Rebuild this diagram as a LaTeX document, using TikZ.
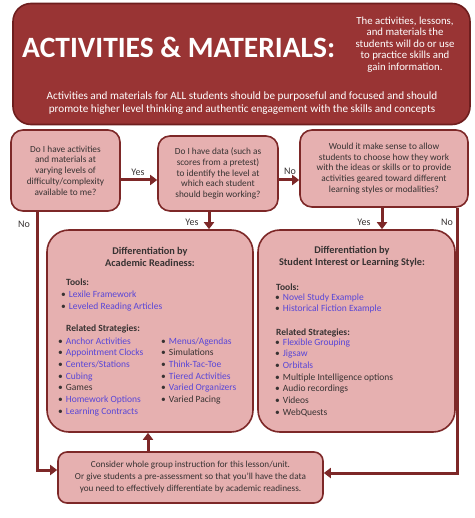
\documentclass[tikz,border=0pt]{standalone}
\usepackage{fontspec}
\setmainfont{Carlito}
\usetikzlibrary{arrows.meta}
\definecolor{hdr}{RGB}{153,52,52}
\definecolor{hdrline}{RGB}{110,30,30}
\definecolor{boxfill}{RGB}{230,176,176}
\definecolor{boxline}{RGB}{125,40,40}
\definecolor{txt}{RGB}{55,50,50}
\definecolor{link}{RGB}{88,70,215}
\newcommand{\bl}{\textbullet\hspace{3pt}}
\newcommand{\lk}[1]{\textcolor{link}{#1}}
\begin{document}
\begin{tikzpicture}[x=1pt,y=-1pt,
  box/.style={draw=boxline, line width=1.6pt, fill=boxfill, rounded corners=12pt, inner sep=0pt, text=txt, align=center},
  qtext/.style={font=\fontsize{9.3}{10.8}\selectfont},
  arr/.style={draw=boxline, line width=3pt, -{Triangle[length=7pt,width=10pt]}},
  lbl/.style={text=txt, font=\fontsize{10}{11}\selectfont, inner sep=0pt},
  list/.style={text=txt, font=\fontsize{9.5}{11.67}\selectfont, align=left, inner sep=0pt, anchor=north west},
  listhead/.style={text=txt, font=\fontsize{9.5}{11.67}\selectfont\bfseries, inner sep=0pt, anchor=north west},
  boxhead/.style={text=txt, font=\fontsize{10.3}{12}\selectfont\bfseries, align=center, inner sep=0pt}]
\useasboundingbox[fill=white] (0,0) rectangle (474,518);
% header
\node[box, fill=hdr, draw=hdrline, minimum width=457pt, minimum height=121pt, rounded corners=18pt] (head) at (241.5,64) {};
\node[font=\fontsize{29.5}{32}\selectfont\bfseries, text=white, anchor=west, inner sep=0pt] (title) at (22,47) {ACTIVITIES \& MATERIALS:};
\node[font=\fontsize{10.8}{11.5}\selectfont, text=white, align=center, inner sep=0pt] (desc) at (405,44.5) {The activities, lessons,\\and materials the\\students will do or use\\to practice skills and\\gain information.};
\node[font=\fontsize{11.2}{12.5}\selectfont, text=white, align=center, inner sep=0pt] (purpose) at (242,103) {Activities and materials for ALL students should be purposeful and focused and should\\promote higher level thinking and authentic engagement with the skills and concepts};
% questions
\node[box, qtext, minimum width=109pt, minimum height=81pt] (q1) at (65.5,170.5) {Do I have activities\\and materials at\\varying levels of\\difficulty/complexity\\available to me?};
\node[box, qtext, minimum width=120pt, minimum height=75pt] (q2) at (218,173.5) {Do I have data (such as\\scores from a pretest)\\to identify the level at\\which each student\\should begin working?};
\node[box, qtext, minimum width=168pt, minimum height=77pt] (q3) at (384,168.5) {Would it make sense to allow\\students to choose how they work\\with the ideas or skills or to provide\\activities geared toward different\\learning styles or modalities?};
% main boxes
\node[box, rounded corners=22pt, minimum width=206pt, minimum height=202pt] (ready) at (150,331) {};
\node[box, rounded corners=22pt, minimum width=197pt, minimum height=202pt] (interest) at (356.5,331) {};
\node[box, rounded corners=9pt, minimum width=265pt, minimum height=51pt, font=\fontsize{9.2}{12}\selectfont] (whole) at (190.5,477.5) {Consider whole group instruction for this lesson/unit.\\Or give students a pre-assessment so that you'll have the data\\you need to effectively differentiate by academic readiness.};
% readiness content
\node[boxhead] (rhead) at (150,257) {Differentiation by\\Academic Readiness:};
\node[listhead] (rtools) at (66,279) {Tools:};
\node[list] (rtlist) at (61,291) {\bl\lk{Lexile Framework}\\\bl\lk{Leveled Reading Articles}};
\node[listhead] (rrel) at (66,325) {Related Strategies:};
\node[list] (rleft) at (58,337.5) {\bl\lk{Anchor Activities}\\\bl\lk{Appointment Clocks}\\\bl\lk{Centers/Stations}\\\bl\lk{Cubing}\\\bl Games\\\bl\lk{Homework Options}\\\bl\lk{Learning Contracts}};
\node[list] (rright) at (161,337.5) {\bl\lk{Menus/Agendas}\\\bl Simulations\\\bl\lk{Think-Tac-Toe}\\\bl\lk{Tiered Activities}\\\bl\lk{Varied Organizers}\\\bl Varied Pacing};
% interest content
\node[boxhead] (ihead) at (352,257) {Differentiation by\\Student Interest or Learning Style:};
\node[listhead] (itools) at (276,283.5) {Tools:};
\node[list] (itlist) at (275,293.5) {\bl\lk{Novel Study Example}\\\bl\lk{Historical Fiction Example}};
\node[listhead] (irel) at (276,328.5) {Related Strategies:};
\node[list] (ilist) at (275,338.5) {\bl\lk{Flexible Grouping}\\\bl\lk{Jigsaw}\\\bl\lk{Orbitals}\\\bl Multiple Intelligence options\\\bl Audio recordings\\\bl Videos\\\bl WebQuests};
% connectors
\draw[arr] (q1.east |- 0,180) -- (q2.west |- 0,180);
\draw[arr] (q2.east |- 0,180) -- (q3.west |- 0,180);
\draw[arr] (q2.south -| 209,0) -- (ready.north -| 209,0);
\draw[arr] (q3.south -| 382,0) -- (interest.north -| 382,0);
\draw[arr] (q1.south -| 37,0) -- (37,470) -- (whole.west |- 0,470);
\draw[arr] (q3.south -| 457,0) -- (457,473) -- (whole.east |- 0,473);
\draw[arr] (whole.north -| 148,0) -- (ready.south -| 148,0);
% labels
\node[lbl] (y1) at (138,172) {Yes};
\node[lbl] (n1) at (290,171) {No};
\node[lbl] (y2) at (192,222) {Yes};
\node[lbl] (y3) at (364,222) {Yes};
\node[lbl] (n2) at (447,222) {No};
\node[lbl] (n3) at (24,224) {No};
\end{tikzpicture}
\end{document}
